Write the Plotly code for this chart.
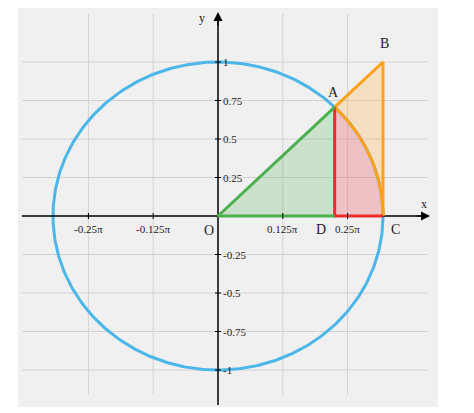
import numpy as np
import plotly.graph_objects as go

# data
x_tick_vals = [-0.25*np.pi, -0.125*np.pi, 0.125*np.pi, 0.25*np.pi]
x_tick_text = ["-0.25π", "-0.125π", "0.125π", "0.25π"]
y_tick_vals = [1, 0.75, 0.5, 0.25, -0.25, -0.5, -0.75, -1]
y_tick_text = ["1", "0.75", "0.5", "0.25", "-0.25", "-0.5", "-0.75", "-1"]
angle = np.pi/4
radius = 1.0
points = {"O": (0, 0), "A": (np.cos(angle), np.sin(angle)), "B": (1, np.tan(angle)),
          "C": (1, 0), "D": (np.cos(angle), 0)}

W, H = 474, 413
OFF = 8  # page body offset
ox, oy, sx, sy = 218, 216, 165, 154
def px2x(p): return (p-ox)/sx
def py2y(p): return (oy-p)/sy

fig = go.Figure()
fig.add_shape(type="rect", x0=px2x(18), x1=px2x(438), y0=py2y(407), y1=py2y(8),
              fillcolor="#f0f0f0", line_width=0, layer="below")
GRID = "#d2d2d2"
for v in x_tick_vals:
    fig.add_trace(go.Scatter(x=[v, v], y=[py2y(395), py2y(14)], mode="lines",
                             line=dict(color=GRID, width=1), hoverinfo="skip"))
for v in y_tick_vals:
    fig.add_trace(go.Scatter(x=[px2x(22), px2x(428)], y=[v, v], mode="lines",
                             line=dict(color=GRID, width=1), hoverinfo="skip"))

t = np.linspace(0, 2*np.pi, 400)
arc = np.linspace(angle, 0, 60)
Ax, Ay = points["A"]; Bx, By = points["B"]; Cx, Cy = points["C"]; Dx, Dy = points["D"]
fig.add_trace(go.Scatter(x=[Ax, Bx, Cx] + list(np.cos(arc[::-1])), y=[Ay, By, Cy] + list(np.sin(arc[::-1])),
                         fill="toself", fillcolor="rgba(255,170,60,0.25)", mode="none", hoverinfo="skip"))
fig.add_trace(go.Scatter(x=[Dx] + list(np.cos(arc)) + [Dx], y=[Dy] + list(np.sin(arc)) + [Dy],
                         fill="toself", fillcolor="rgba(235,90,100,0.3)", mode="none", hoverinfo="skip"))
fig.add_trace(go.Scatter(x=[0, Ax, Dx, 0], y=[0, Ay, Dy, 0], fill="toself",
                         fillcolor="rgba(90,180,90,0.25)", mode="none", hoverinfo="skip"))
fig.add_trace(go.Scatter(x=radius*np.cos(t), y=radius*np.sin(t), mode="lines",
                         line=dict(color="#4cb6e8", width=3), hoverinfo="skip"))
fig.add_trace(go.Scatter(x=[px2x(22), px2x(428)], y=[0, 0], mode="lines", line=dict(color="black", width=1.5)))
fig.add_trace(go.Scatter(x=[0, 0], y=[py2y(405), py2y(16)], mode="lines", line=dict(color="black", width=1.5)))
fig.add_annotation(x=px2x(430), y=0, ax=px2x(415), ay=0, xref="x", yref="y", axref="x", ayref="y",
                   showarrow=True, arrowhead=2, arrowsize=1.2, arrowwidth=1.5, arrowcolor="black", text="")
fig.add_annotation(x=0, y=py2y(12), ax=0, ay=py2y(27), xref="x", yref="y", axref="x", ayref="y",
                   showarrow=True, arrowhead=2, arrowsize=1.2, arrowwidth=1.5, arrowcolor="black", text="")
fig.add_trace(go.Scatter(x=[Ax, Bx, Cx], y=[Ay, By, Cy], mode="lines", line=dict(color="#ffa11a", width=3)))
fig.add_trace(go.Scatter(x=np.cos(arc), y=np.sin(arc), mode="lines", line=dict(color="#ffa11a", width=3)))
fig.add_trace(go.Scatter(x=[Dx, Dx, Cx], y=[Ay, Dy, Cy], mode="lines", line=dict(color="#ee2a2a", width=3)))
fig.add_trace(go.Scatter(x=[Dx, 0, Ax], y=[0, 0, Ay], mode="lines", line=dict(color="#4caf50", width=3)))

FONT = "Liberation Serif"
for v, s in zip(x_tick_vals, x_tick_text):
    fig.add_annotation(x=v, y=py2y(229), text=s, showarrow=False, font=dict(size=11, color="#222", family=FONT))
    fig.add_trace(go.Scatter(x=[v, v], y=[py2y(213), py2y(219)], mode="lines", line=dict(color="black", width=1)))
for v, s in zip(y_tick_vals, y_tick_text):
    fig.add_annotation(x=px2x(221), y=v, text=s, showarrow=False, xanchor="left",
                       font=dict(size=11, color="#222", family=FONT))
    fig.add_trace(go.Scatter(x=[px2x(215), px2x(221)], y=[v, v], mode="lines", line=dict(color="black", width=1)))

labels = [("O", 209, 230), ("D", 321, 229), ("C", 395, 229), ("A", 333, 92), ("B", 384, 43),
          ("x", 424, 204), ("y", 202, 18)]
for s, x, y in labels:
    fig.add_annotation(x=px2x(x), y=py2y(y), text=s, showarrow=False,
                       font=dict(size=14 if s in "ODCAB" else 12, color="#222", family=FONT))

fig.update_layout(width=W, height=H, margin=dict(l=0, r=0, t=0, b=0), showlegend=False,
                  paper_bgcolor="white", plot_bgcolor="white",
                  xaxis=dict(range=[px2x(OFF), px2x(W + OFF)], visible=False, fixedrange=True),
                  yaxis=dict(range=[py2y(H + OFF), py2y(OFF)], visible=False, fixedrange=True))
fig.write_html("out.html")
